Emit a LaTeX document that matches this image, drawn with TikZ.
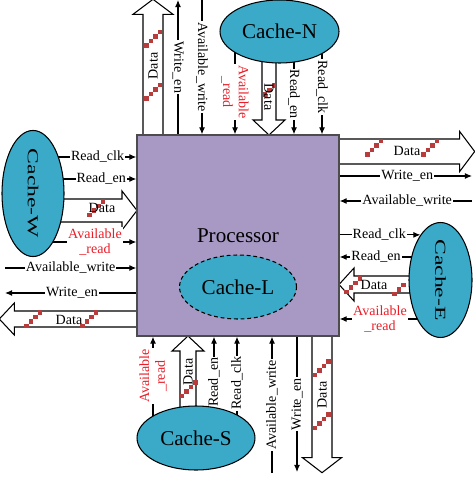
\documentclass[tikz,border=0pt]{standalone}
\usepackage{fontspec}
\setmainfont{Liberation Serif}
\usetikzlibrary{shapes.geometric,arrows.meta,backgrounds}
\definecolor{procfill}{RGB}{168,153,196}
\definecolor{cachefill}{RGB}{58,170,200}
\definecolor{stairred}{RGB}{185,60,60}
\definecolor{availred}{RGB}{235,30,40}
\tikzset{
  sig/.style={line width=0.6pt, -{Latex[length=4pt,width=3.4pt]}},
  bus/.style={line width=0.6pt, fill=white},
  lbl/.style={font=\fontsize{8}{9}\selectfont, fill=white, inner sep=0.6pt},
  redlbl/.style={lbl, text=availred, align=center},
  buslbl/.style={font=\fontsize{8}{9}\selectfont, inner sep=0pt},
  cache/.style={ellipse, draw, line width=0.6pt, fill=cachefill, inner sep=0pt, font=\fontsize{12}{14}\selectfont},
}
% hollow bus arrow: tail, angle, length, half shaft, half head
\newcommand{\busarrow}[5]{%
  \begin{scope}[shift={(#1)}, rotate=#2]
    \draw[bus] (0,-#4) -- (#3-15,-#4) -- (#3-15,-#5) -- (#3,0) -- (#3-15,#5) -- (#3-15,#4) -- (0,#4);
  \end{scope}}
% red staircase on a bus: lower left corner, number of squares
\newcommand{\stairs}[2]{%
  \begin{scope}[shift={(#1)}]
    \foreach \k in {1,...,#2} \fill[stairred] ({4.5*(\k-1)},{-4.5*(\k-1)}) rectangle ++(4.5,-4.5);
  \end{scope}}
\begin{document}
\begin{tikzpicture}[x=0.02cm, y=-0.02cm]
    \useasboundingbox (0,0) rectangle (474,503);
    % processor and local cache
    \node[draw=black!70, line width=0.8pt, fill=procfill, minimum width=4.04cm, minimum height=4.02cm, font=\fontsize{12}{14}\selectfont] (P) at (238,235.5) {Processor};
    \node[cache, dashed, dash pattern=on 2.2pt off 1.6pt, minimum width=2.34cm, minimum height=1.28cm] (L) at (238,287) {Cache-L};
    % outer caches
    \node[cache, minimum width=2.38cm, minimum height=1.26cm] (N) at (279.5,31.5) {Cache-N};
    \node[cache, minimum width=2.36cm, minimum height=1.28cm] (S) at (196,438) {Cache-S};
    \node[cache, minimum width=1.24cm, minimum height=2.26cm] (W) at (33,193.5) {\rotatebox{-90}{\scalebox{1.12}[0.72]{Cache-W}}};
    \node[cache, minimum width=1.26cm, minimum height=2.28cm] (E) at (440.5,280) {\rotatebox{-90}{\scalebox{1.12}[0.72]{Cache-E}}};
    \coordinate (tWE) at (178,0);
    \coordinate (tAW) at (202,0);
    \coordinate (lAW) at (5,268);
    \coordinate (lWE) at (5,293);
    \coordinate (rWE) at (472,176);
    \coordinate (rAW) at (472,201);
    \coordinate (bAW) at (272,473);
    \coordinate (bWE) at (297,472);
    \begin{pgfonlayer}{background}
        % north
        \busarrow{P.north -| 153,0}{90}{135}{10}{20}
        \stairs{144,48}{4} \stairs{144,101}{4}
        \node[buslbl, rotate=90] (dTop) at (153,66) {Data};
        \draw[sig] (P.north -| tWE) -- (tWE) node[lbl, rotate=-90, pos=0.5] {Write\_en};
        \draw[sig] (tAW) -- (P.north -| tAW) node[lbl, rotate=-90, pos=0.5] {Available\_write};
        \draw[sig] (N.center -| 235,0) -- (P.north -| 235,0) node[redlbl, rotate=-90, pos=0.59] {Available\\\_read};
        \busarrow{N.center -| 269,0}{-90}{103.5}{7}{16}
        \stairs{262.5,97}{3}
        \node[buslbl, rotate=-90] (dN) at (269,97) {Data};
        \draw[sig] (N.center -| 294,0) -- (P.north -| 294,0) node[lbl, rotate=-90, pos=0.61] {Read\_en};
        \draw[sig] (N.center -| 322,0) -- (P.north -| 322,0) node[lbl, rotate=-90, pos=0.54] {Read\_clk};
        % west
        \draw[sig] (W.center |- 0,157) -- (P.west |- 0,157) node[lbl, pos=0.625] {Read\_clk};
        \draw[sig] (W.center |- 0,179) -- (P.west |- 0,179) node[lbl, pos=0.66] {Read\_en};
        \busarrow{W.center |- 0,210.5}{0}{104}{11.5}{19.5}
        \stairs{87,217}{4}
        \node[buslbl] (dW) at (102,208) {Data};
        \draw[sig] (W.center |- 0,242) -- (P.west |- 0,242) node[redlbl, pos=0.6] {Available\\\_read};
        \draw[sig] (lAW) -- (P.west |- lAW) node[lbl, pos=0.5] {Available\_write};
        \draw[sig] (P.west |- lWE) -- (lWE) node[lbl, pos=0.49] {Write\_en};
        \busarrow{P.west |- 0,319}{180}{137}{8}{16}
        \stairs{24,328}{4} \stairs{80,328}{4}
        \node[buslbl] (dLeft) at (69,320) {Data};
        % east
        \busarrow{P.east |- 0,151.5}{0}{135}{12.5}{20}
        \stairs{365,157}{4} \stairs{421,157}{4}
        \node[buslbl] (dRight) at (407,151) {Data};
        \draw[sig] (P.east |- rWE) -- (rWE) node[lbl, pos=0.51] {Write\_en};
        \draw[sig] (rAW) -- (P.east |- rAW) node[lbl, pos=0.49] {Available\_write};
        \draw[sig] (E.center |- 0,257) -- (P.east |- 0,257) node[lbl, pos=0.64] {Read\_en};
        \busarrow{E.center |- 0,284.5}{180}{101.5}{8.5}{16.5}
        \stairs{344,294}{4} \stairs{392,296}{3}
        \node[buslbl] (dE) at (374,285) {Data};
        \draw[sig] (E.center |- 0,319) -- (P.east |- 0,319) node[redlbl, pos=0.6] {Available\\\_read};
        % south
        \draw[sig] (S.center -| 153,0) -- (P.south -| 153,0) node[redlbl, rotate=90, pos=0.61] {Available\\\_read};
        \busarrow{S.center -| 188,0}{90}{102}{8}{16}
        \stairs{179.5,398}{4}
        \node[buslbl, rotate=90] (dS) at (188,372) {Data};
        \draw[sig] (S.center -| 214,0) -- (P.south -| 214,0) node[lbl, rotate=90, pos=0.55] {Read\_en};
        \draw[sig] (S.center -| 237,0) -- (P.south -| 237,0) node[lbl, rotate=90, pos=0.54] {Read\_clk};
        \draw[sig] (bAW) -- (P.south -| bAW) node[lbl, rotate=90, pos=0.5] {Available\_write};
        \draw[sig] (P.south -| bWE) -- (bWE) node[lbl, rotate=90, pos=0.5] {Write\_en};
        \busarrow{P.south -| 322,0}{-90}{136}{10}{19.5}
        \stairs{312.5,377}{4} \stairs{312.5,430}{4}
        \node[buslbl, rotate=90] (dBottom) at (322,395) {Data};
    \end{pgfonlayer}
    \draw[sig] (P.east |- E.114) -- (E.114) node[lbl, pos=0.49] {Read\_clk};
\end{tikzpicture}
\end{document}
